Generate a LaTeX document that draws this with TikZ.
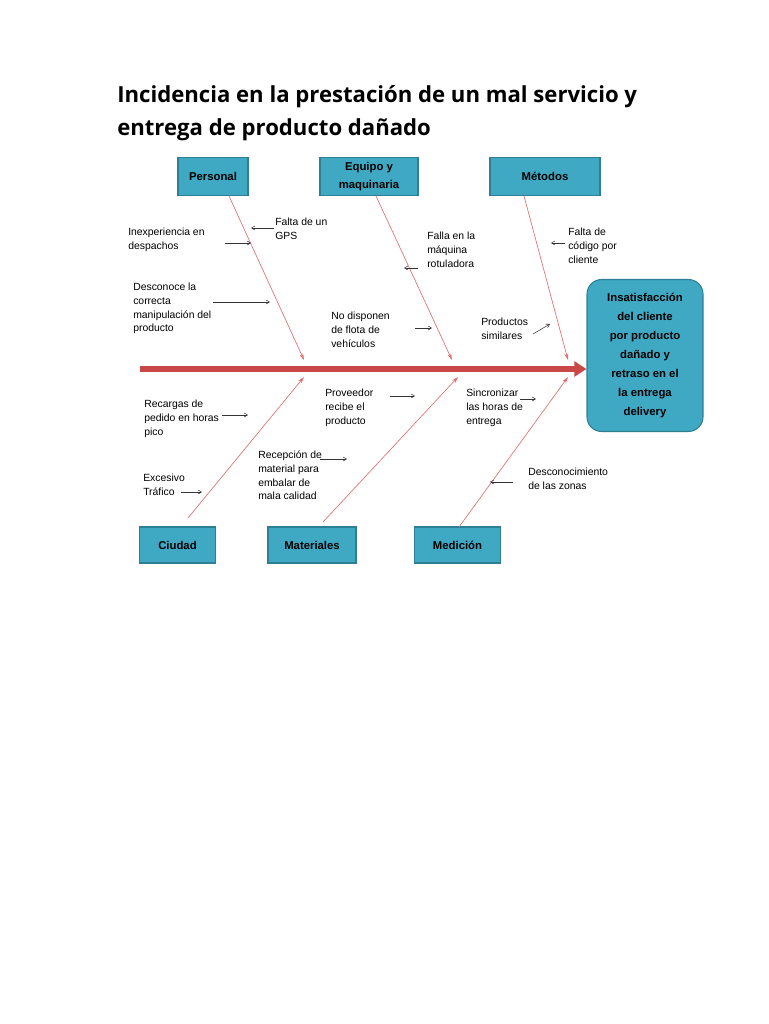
\documentclass[tikz,border=0pt]{standalone}
\usepackage{fontspec}
\setmainfont{Liberation Sans}
\newfontfamily\titlefont{Open Sans}
\usetikzlibrary{arrows.meta}
\definecolor{boxfill}{HTML}{3FA8C2}
\definecolor{boxedge}{HTML}{2E7F94}
\definecolor{bone}{HTML}{E07070}
\definecolor{spine}{HTML}{C84848}
\begin{document}
\begin{tikzpicture}[x=0.75pt,y=-0.75pt,
  cat/.style={draw=boxedge,fill=boxfill,line width=0.8pt,font=\fontsize{8.5}{11}\selectfont\bfseries,align=center,inner sep=0pt},
  lbl/.style={anchor=north west,font=\fontsize{7.8}{10.2}\selectfont,align=left,inner sep=0pt},
  bonel/.style={draw=bone,line width=0.5pt,-{Stealth[length=5pt,width=3pt]}},
  sm/.style={draw=black!80,line width=0.4pt,-{Straight Barb[length=2.5pt,width=3pt]}}]
\useasboundingbox (0,0) rectangle (768,1024);
\node[anchor=north west,inner sep=0pt,font=\titlefont\bfseries\fontsize{16.6}{25}\selectfont,align=left] (title) at (117,85) {Incidencia en la prestación de un mal servicio y\\entrega de producto dañado};
% category boxes
\node[cat,minimum width=52.5pt,minimum height=29pt] (pers) at (213,176.5) {Personal};
\node[cat,minimum width=73.5pt,minimum height=29pt,font=\fontsize{8.5}{13.2}\selectfont\bfseries] (equi) at (369,176.5) {Equipo y\\maquinaria};
\node[cat,minimum width=82.5pt,minimum height=29pt] (meto) at (545,176.5) {Métodos};
\node[cat,minimum width=57.5pt,minimum height=27pt] (ciud) at (177.5,545) {Ciudad};
\node[cat,minimum width=66pt,minimum height=27pt] (mate) at (312,545) {Materiales};
\node[cat,minimum width=64pt,minimum height=27pt] (medi) at (457.5,545) {Medición};
\node[cat,rounded corners=11pt,minimum width=87pt,minimum height=114pt,font=\fontsize{8.5}{14.2}\selectfont\bfseries] (res) at (645,355.5) {Insatisfacción\\del cliente\\por producto\\dañado y\\retraso en el\\la entrega\\delivery};
% spine
\coordinate (s0) at (140,369);
\draw[spine,line width=5pt,-{Triangle[length=9pt,width=11pt]}] (s0) -- (res.west |- s0);
% bone endpoints
\coordinate (p1) at (304,360); \coordinate (e1) at (452,360); \coordinate (m1) at (568,360);
\coordinate (c1) at (304,377); \coordinate (t1) at (458,377); \coordinate (d1) at (568,377);
\coordinate (p0) at (229,196); \coordinate (e0) at (376,196); \coordinate (m0) at (524,196);
\coordinate (c0) at (188,518); \coordinate (t0) at (323,522); \coordinate (d0) at (459,527);
\draw[bonel] (p0) -- (p1);
\draw[bonel] (e0) -- (e1);
\draw[bonel] (m0) -- (m1);
\draw[bonel] (c0) -- (c1);
\draw[bonel] (t0) -- (t1);
\draw[bonel] (d0) -- (d1);
% labels
\node[lbl] (l1) at (128,228) {Inexperiencia en\\despachos};
\node[lbl] (l2) at (275,218) {Falta de un\\GPS};
\node[lbl] (l3) at (133,283) {Desconoce la\\correcta\\manipulación del\\producto};
\node[lbl] (l4) at (427,232) {Falla en la\\máquina\\rotuladora};
\node[lbl] (l5) at (331,312) {No disponen\\de flota de\\vehículos};
\node[lbl] (l6) at (481,318) {Productos\\similares};
\node[lbl] (l7) at (568,228) {Falta de\\código por\\cliente};
\node[lbl] (l8) at (144,400) {Recargas de\\pedido en horas\\pico};
\node[lbl] (l9) at (325,389) {Proveedor\\recibe el\\producto};
\node[lbl] (l10) at (466,389) {Sincronizar\\las horas de\\entrega};
\node[lbl] (l11) at (258,451) {Recepción de\\material para\\embalar de\\mala calidad};
\node[lbl] (l12) at (143,474) {Excesivo\\Tráfico};
\node[lbl] (l13) at (528,468) {Desconocimiento\\de las zonas};
% small arrows
\coordinate (a1s) at (225,243); \coordinate (a1e) at (251,243);
\coordinate (a2s) at (274,228); \coordinate (a2e) at (251,228);
\coordinate (a3s) at (213,302); \coordinate (a3e) at (270,302);
\coordinate (a4s) at (418,268); \coordinate (a4e) at (404,268);
\coordinate (a5s) at (415,328); \coordinate (a5e) at (432,328);
\coordinate (a6s) at (533,334); \coordinate (a6e) at (550,324);
\coordinate (a7s) at (565,243); \coordinate (a7e) at (551,243);
\coordinate (a8s) at (222,415); \coordinate (a8e) at (248,415);
\coordinate (a9s) at (390,396); \coordinate (a9e) at (415,396);
\coordinate (a10s) at (520,399); \coordinate (a10e) at (536,399);
\coordinate (a11s) at (320,459); \coordinate (a11e) at (347,459);
\coordinate (a12s) at (181,492); \coordinate (a12e) at (202,492);
\coordinate (a13s) at (513,482); \coordinate (a13e) at (490,482);
\foreach \i in {1,...,13} \draw[sm] (a\i s) -- (a\i e);
\end{tikzpicture}
\end{document}
